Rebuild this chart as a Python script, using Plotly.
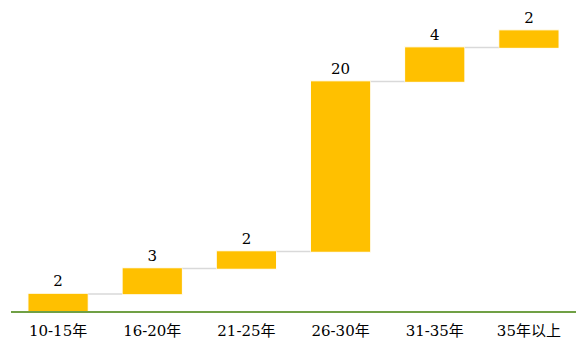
import plotly.graph_objects as go

categories = ["10-15年", "16-20年", "21-25年", "26-30年", "31-35年", "35年以上"]
values = [2, 3, 2, 20, 4, 2]

FONT = "DejaVu Serif, Noto Sans CJK SC"

fig = go.Figure(go.Waterfall(
    x=categories,
    y=values,
    measure=["relative"] * len(values),
    text=[str(v) for v in values],
    textposition="outside",
    textfont=dict(family=FONT, size=15, color="#000000"),
    increasing=dict(marker=dict(color="#FFC000", line=dict(color="#FFFFFF", width=1))),
    connector=dict(line=dict(color="#D9D9D9", width=1.5)),
    cliponaxis=False,
))

fig.update_layout(
    width=588, height=353,
    margin=dict(l=11, r=12, t=0, b=42),
    paper_bgcolor="white", plot_bgcolor="white",
    showlegend=False,
    waterfallgap=0.36,
    font=dict(family=FONT, size=15, color="#000000"),
)
fig.update_xaxes(
    showline=True, linecolor="#70A045", linewidth=2,
    showgrid=False, ticks="", ticklabelstandoff=5,
    tickfont=dict(family=FONT, size=15, color="#000000"),
)
fig.update_yaxes(visible=False, range=[0, 36.6], showgrid=False, zeroline=False)

fig.write_html("out.html")
